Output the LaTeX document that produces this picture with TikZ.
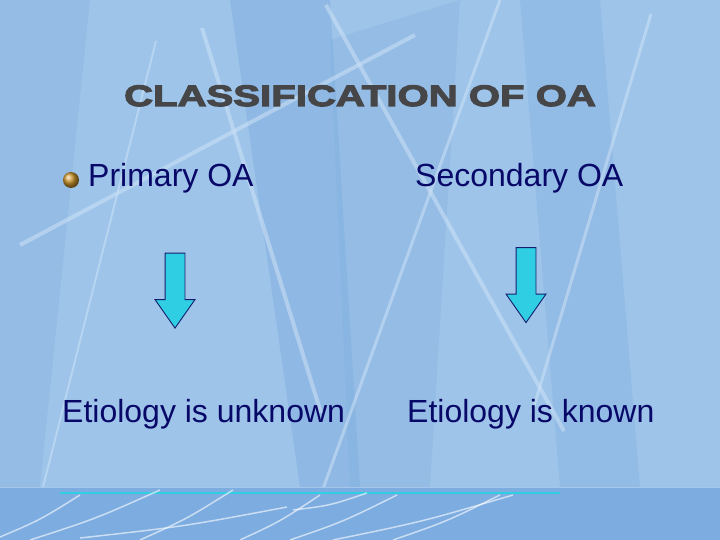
\documentclass[tikz,border=0pt]{standalone}
\usepackage{fontspec}
\setmainfont{Liberation Sans}
\newfontfamily\titlefont[FakeStretch=1.36,FakeBold=4]{Liberation Sans Bold}
\usetikzlibrary{shapes.arrows}

\definecolor{bgblue}{RGB}{158,196,233}
\definecolor{panelblue}{RGB}{126,172,222}
\definecolor{bandblue}{RGB}{124,172,224}
\definecolor{titlegray}{RGB}{70,70,72}
\definecolor{navytext}{RGB}{8,8,104}
\definecolor{arrowfill}{RGB}{48,206,226}
\definecolor{arrowedge}{RGB}{20,30,110}
\definecolor{bulletgold}{RGB}{205,150,45}
\definecolor{streak}{RGB}{205,226,246}

\begin{document}
\begin{tikzpicture}[x=1pt, y=-1pt,
        heading/.style={
            font=\titlefont\fontsize{29.5}{36}\selectfont, text=titlegray, anchor=base, inner sep=0
        },
        bodytext/.style={
            font=\fontsize{32}{38}\selectfont, text=navytext, anchor=base west, inner sep=0
        },
        downarrow/.style={
            single arrow, draw=arrowedge, fill=arrowfill, line width=0.9pt,
            inner sep=9.5pt, minimum height=75pt, single arrow head extend=10pt,
            single arrow tip angle=70, single arrow head indent=0pt, shape border rotate=270
        },
        streakline/.style={
            draw=streak, line width=4pt, opacity=0.55
        }
    ]
    \useasboundingbox (0,0) rectangle (720,540);
    \clip (0,0) rectangle (720,540);
    % background
    \fill[bgblue] (0,0) rectangle (720,540);
    \fill[panelblue, opacity=0.45] (230,0) -- (330,0) -- (360,487) -- (300,487) -- cycle;
    \fill[panelblue, opacity=0.35] (520,0) -- (600,0) -- (640,487) -- (560,487) -- cycle;
    \fill[panelblue, opacity=0.3] (0,0) -- (90,0) -- (40,487) -- (0,487) -- cycle;
    \fill[panelblue, opacity=0.3] (330,40) -- (460,0) -- (430,487) -- (350,487) -- cycle;
    \draw[streakline] (20,245) -- (415,35);
    \draw[streakline] (326,5) -- (564,431);
    \draw[streakline] (202,28) -- (321,413);
    \draw[streakline, line width=3pt] (500,0) -- (290,580);
    \draw[streakline, line width=3pt] (651,14) -- (532,413);
    \draw[streakline, line width=2pt] (156,41) -- (41,495);

    % bottom band
    \fill[bandblue] (0,487) rectangle (720,540);
    \draw[streak, opacity=0.5, line width=1pt] (0,487) -- (720,487);
    \draw[arrowfill, line width=2.5pt] (60,493) -- (560,493);
    \foreach \xa/\ya/\xb/\yb in {0/537/80/495, 30/540/160/490, 80/538/287/507, 140/540/233/490,
        240/540/320/495, 290/540/397/495, 333/540/513/495, 393/540/500/495, 293/510/367/493}
        \draw[white, opacity=0.6, line width=1.5pt]
            (\xa,\ya) .. controls ({(\xa+\xb)/2},{(\ya+\yb)/2+4}) .. (\xb,\yb);

    % title
    \node[heading] (title) at (360,106) {CLASSIFICATION OF OA};

    % classes
    \node[circle, minimum size=16pt, inner sep=0, shading=ball, ball color=bulletgold] (dot) at (71,180) {};
    \node[bodytext] (primary) at (88,187) {Primary OA};
    \node[bodytext] (secondary) at (415,187) {Secondary OA};

    \node[downarrow] (arrowA) at (175,283.5) {};
    \node[downarrow] (arrowB) at (526,278) {};

    \node[bodytext] (unknown) at (62,422) {Etiology is unknown};
    \node[bodytext] (known) at (407,422) {Etiology is known};
\end{tikzpicture}
\end{document}
